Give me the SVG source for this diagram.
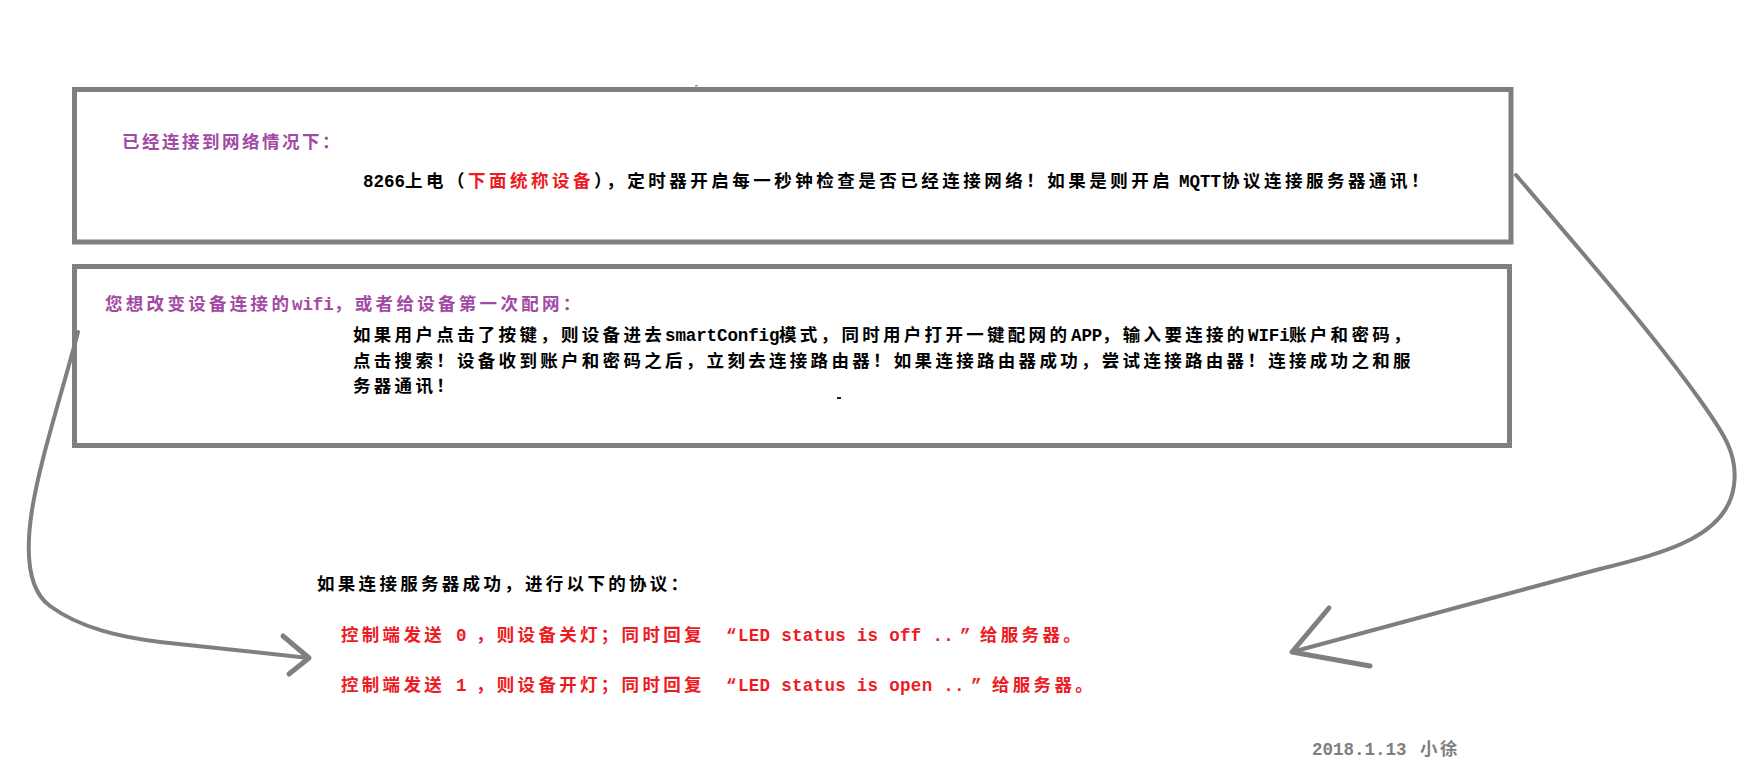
<svg xmlns="http://www.w3.org/2000/svg" width="1751" height="780" viewBox="0 0 1751 780">
<style>
.t{font-family:"Liberation Mono","Noto Sans CJK SC",monospace;font-size:17.5px;font-weight:bold;fill:#000}
.c{letter-spacing:3.3px}
.c20{letter-spacing:2.5px}
.c21{letter-spacing:3.5px}
.a{letter-spacing:-0.1px}
.a9{letter-spacing:0px}
.a12{letter-spacing:0.3px}
.pur{fill:#a349a4}
.red{fill:#ed1c24}
.gry{fill:#7f7f7f}
.box{fill:none;stroke:#7f7f7f;stroke-width:5}
.line{fill:none;stroke:#7f7f7f;stroke-width:4;stroke-linecap:round;stroke-linejoin:round}
.head{fill:none;stroke:#7f7f7f;stroke-width:5;stroke-linecap:round;stroke-linejoin:round}
</style>
<rect width="1751" height="780" fill="#fff"/>
<g id="box1">
<rect class="box" x="74.5" y="89.5" width="1436.5" height="152.5"/>
<text class="t pur c20" x="122" y="148">已经连接到网络情况下：</text>
<text class="t" y="187"><tspan x="363" class="a9">8266</tspan><tspan x="405" class="c21">上电（</tspan><tspan x="468" class="c21 red">下面统称设备</tspan><tspan x="594" class="c21">），定时器开启每一秒钟检查是否已经连接网络！如果是则开启</tspan><tspan x="1179" class="a9">MQTT</tspan><tspan x="1222" class="c21">协议连接服务器通讯！</tspan></text>
</g>
<g id="box2">
<rect class="box" x="74.5" y="266.5" width="1435" height="179"/>
<text class="t pur" y="310"><tspan x="105" class="c">您想改变设备连接的</tspan><tspan x="292" class="a">wifi</tspan><tspan x="334" class="c">，或者给设备第一次配网：</tspan></text>
<text class="t" y="341"><tspan x="353" class="c">如果用户点击了按键，则设备进去</tspan><tspan x="665" class="a">smartConfig</tspan><tspan x="779" class="c">模式，同时用户打开一键配网的</tspan><tspan x="1071" class="a">APP</tspan><tspan x="1102" class="c">，输入要连接的</tspan><tspan x="1248" class="a">WIFi</tspan><tspan x="1289" class="c">账户和密码，</tspan></text>
<text class="t c" x="353" y="367">点击搜索！设备收到账户和密码之后，立刻去连接路由器！如果连接路由器成功，尝试连接路由器！连接成功之和服</text>
<text class="t c" x="353" y="392">务器通讯！</text>
</g>
<g id="protocol">
<text class="t c" x="317" y="590">如果连接服务器成功，进行以下的协议：</text>
<text class="t red" y="641"><tspan x="341" class="c">控制端发送</tspan><tspan x="456">0</tspan><tspan x="476" class="c">，则设备关灯；同时回复</tspan><tspan x="726">“</tspan><tspan x="738" class="a12">LED status is off ..</tspan><tspan x="960">”</tspan><tspan x="980" class="c">给服务器。</tspan></text>
<text class="t red" y="691"><tspan x="341" class="c">控制端发送</tspan><tspan x="456">1</tspan><tspan x="476" class="c">，则设备开灯；同时回复</tspan><tspan x="726">“</tspan><tspan x="738" class="a12">LED status is open ..</tspan><tspan x="971">”</tspan><tspan x="992" class="c">给服务器。</tspan></text>
</g>
<g id="signature">
<text class="t gry" y="755"><tspan x="1312" class="a9">2018.1.13</tspan><tspan x="1420" class="c20">小徐</tspan></text>
</g>
<g id="specks">
<rect x="695" y="85" width="3" height="1.5" fill="#999"/>
<rect x="837" y="397" width="4" height="2" fill="#222"/>
</g>
<g id="connectors">
<path class="line" d="M1516,175 C1580,250 1650,330 1700,400 C1725,435 1738,455 1734,485 C1728,535 1670,552 1596,570 L1292,652"/>
<path class="head" d="M1329,608 L1292,652 L1370,666"/>
<path class="line" d="M78,332 C60,400 40,460 32,510 C25,555 28,590 50,606 C80,628 120,637 160,642 L309,658"/>
<path class="head" d="M283,636 L309,658 L289,674"/>
</g>
</svg>
